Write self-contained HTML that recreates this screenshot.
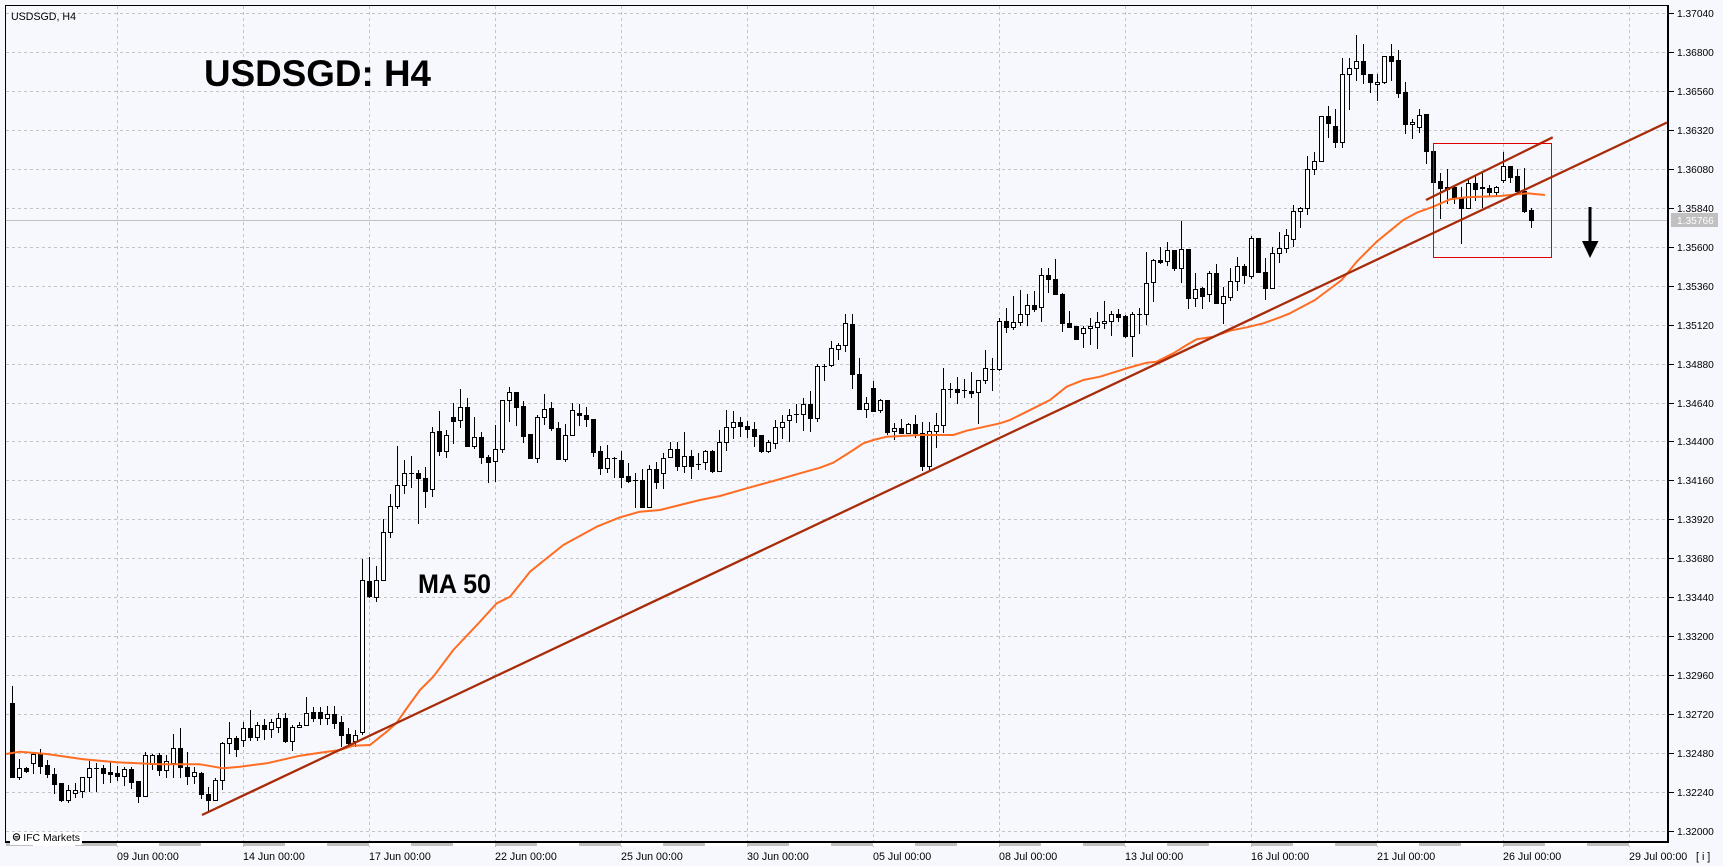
<!DOCTYPE html>
<html><head><meta charset="utf-8">
<style>
html,body{margin:0;padding:0;background:#f7f8fd;overflow:hidden;}
svg{display:block;}
text{font-family:"Liberation Sans",Arial,sans-serif;fill:#000;}
</style></head>
<body>
<svg id="c" width="1723" height="866" viewBox="0 0 1723 866" xmlns="http://www.w3.org/2000/svg">
<rect width="1723" height="866" fill="#f7f8fd"/>
<g id="grid" shape-rendering="crispEdges"></g>
<line x1="6" y1="220.5" x2="1667" y2="220.5" stroke="#c0c0c0" stroke-width="1" shape-rendering="crispEdges"/>
<g id="candles" shape-rendering="crispEdges"></g>
<polyline id="ma" fill="none" stroke="#ff6c22" stroke-width="2" stroke-linejoin="round" points=""/>
<line x1="202" y1="815" x2="1667" y2="122.5" stroke="#a82c0a" stroke-width="2.3"/>
<line x1="1426" y1="200" x2="1552.7" y2="137.3" stroke="#a82c0a" stroke-width="2.3"/>
<rect x="1433.5" y="143.5" width="118" height="114" fill="none" stroke="#e00000" stroke-width="1" shape-rendering="crispEdges"/>
<rect x="1588.5" y="207" width="3" height="35" fill="#000" shape-rendering="crispEdges"/>
<polygon points="1582,241 1598.5,241 1590,258" fill="#000"/>

<!-- borders -->
<g shape-rendering="crispEdges">
<rect x="5" y="5" width="1664" height="1" fill="#000"/>
<rect x="5" y="5" width="1" height="838" fill="#000"/>
<rect x="1667" y="5" width="2" height="838" fill="#000"/>
<rect x="5" y="841" width="1664" height="2" fill="#000"/>
<g id="strip"></g>
</g>

<!-- texts -->
<text x="11" y="20" font-size="10.6" textLength="65" lengthAdjust="spacingAndGlyphs">USDSGD, H4</text>
<text x="204" y="86" font-size="37" font-weight="bold" textLength="227" lengthAdjust="spacingAndGlyphs">USDSGD: H4</text>
<text x="418" y="593" font-size="27" font-weight="bold" textLength="73" lengthAdjust="spacingAndGlyphs">MA 50</text>

<rect x="10" y="832" width="72" height="13" fill="#ffffff" shape-rendering="crispEdges"/>
<circle cx="16.5" cy="837" r="3.2" fill="none" stroke="#000" stroke-width="1"/>
<line x1="14.5" y1="836.5" x2="18.5" y2="836.5" stroke="#000" stroke-width="0.8"/>
<line x1="14.5" y1="838" x2="18.5" y2="838" stroke="#000" stroke-width="0.8"/>
<text x="23.3" y="841" font-size="10.4" textLength="56.7" lengthAdjust="spacingAndGlyphs">IFC Markets</text>

<!-- y axis labels -->
<g font-size="10.2">
<text x="1677" y="17">1.37040</text>
<text x="1677" y="56">1.36800</text>
<text x="1677" y="95">1.36560</text>
<text x="1677" y="134">1.36320</text>
<text x="1677" y="173">1.36080</text>
<text x="1677" y="212">1.35840</text>
<text x="1677" y="251">1.35600</text>
<text x="1677" y="290">1.35360</text>
<text x="1677" y="329">1.35120</text>
<text x="1677" y="368">1.34880</text>
<text x="1677" y="407">1.34640</text>
<text x="1677" y="445">1.34400</text>
<text x="1677" y="484">1.34160</text>
<text x="1677" y="523">1.33920</text>
<text x="1677" y="562">1.33680</text>
<text x="1677" y="601">1.33440</text>
<text x="1677" y="640">1.33200</text>
<text x="1677" y="679">1.32960</text>
<text x="1677" y="718">1.32720</text>
<text x="1677" y="757">1.32480</text>
<text x="1677" y="796">1.32240</text>
<text x="1677" y="835">1.32000</text>
</g>
<rect x="1671" y="213" width="47" height="14" fill="#c0c0c0" shape-rendering="crispEdges"/>
<text x="1677" y="224" font-size="10.2" style="fill:#ffffff">1.35766</text>

<!-- x axis labels -->
<g font-size="10.7">
<text x="117" y="860">09 Jun 00:00</text>
<text x="243" y="860">14 Jun 00:00</text>
<text x="369" y="860">17 Jun 00:00</text>
<text x="495" y="860">22 Jun 00:00</text>
<text x="621" y="860">25 Jun 00:00</text>
<text x="747" y="860">30 Jun 00:00</text>
<text x="873" y="860">05 Jul 00:00</text>
<text x="999" y="860">08 Jul 00:00</text>
<text x="1125" y="860">13 Jul 00:00</text>
<text x="1251" y="860">16 Jul 00:00</text>
<text x="1377" y="860">21 Jul 00:00</text>
<text x="1503" y="860">26 Jul 00:00</text>
<text x="1629" y="860">29 Jul 00:00</text>
<text x="1696" y="860">[ i ]</text>
</g>
</svg>
<script>
(function(){
var g='';
for(var k=0;k<22;k++){var y=Math.round(13+38.95*k)+0.5;
 g+='<line x1="6" y1="'+y+'" x2="1667" y2="'+y+'" stroke="#c4c4c4" stroke-dasharray="3,3"/>';
 g+='<line x1="1669" y1="'+y+'" x2="1674" y2="'+y+'" stroke="#000"/>';}
for(var k=0;k<13;k++){var x=Math.floor(117.6+126.02*k)+0.5;
 g+='<line x1="'+x+'" y1="6" x2="'+x+'" y2="841" stroke="#c4c4c4" stroke-dasharray="3,3"/>';
 g+='<line x1="'+x+'" y1="843" x2="'+x+'" y2="847" stroke="#b0b0b0"/>';}
document.getElementById('grid').innerHTML=g;

var st='<rect x="6" y="843" width="1661" height="3" fill="#ffffff"/>';
for(var k=-1;k<20;k++){var a=75+84*k,b=a+42;if(a<6)a=6;if(b>1667)b=1667;if(b>a)st+='<rect x="'+a+'" y="843" width="'+(b-a)+'" height="3" fill="#c0c0c0"/>';}
document.getElementById('strip').innerHTML=st;

var segs=[
{ox:0,oy:0,s:1,c:[[355,1,735,741,730,746],[362,1,580,732,559,734]]},
{ox:0,oy:600,s:1/3,c:[
[38,0,310,530,258,530],[58,1,505,530,478,537],[80,0,503,512,500,515],[100,1,462,490,455,520],
[121,0,462,497,448,520],[142,0,495,523,480,530],[163,0,522,553,505,578],[184,0,548,600,548,603],
[205,1,570,600,555,605],[226,1,571,580,548,590],[247,1,532,572,530,590],[268,1,505,532,482,573],
[289,1,505,505,488,572],[310,0,503,520,495,548],[331,0,515,522,487,545],[352,0,519,527,498,540],
[373,1,507,527,500,555],[394,0,507,545,500,565],[415,0,543,587,543,605],[436,1,465,587,455,587],
[457,1,465,492,462,508],[478,0,465,510,460,525],[499,1,484,510,465,530],[520,1,444,488,402,530],
[541,0,444,500,385,532],[562,0,500,527,455,553],[583,1,517,527,500,550],[604,0,518,583,515,595],
[625,0,582,600,562,635],[646,1,540,600,535,600],[667,1,430,540,425,568],[688,1,415,430,365,460],
[709,0,413,447,408,467],[730,1,383,420,365,437],[751,0,383,412,330,420],[772,1,376,412,365,420],
[793,0,376,388,358,418],[814,1,367,388,358,412],[835,1,354,382,340,395],[856,0,354,422,340,425],
[877,1,382,422,375,450],[898,1,375,380,365,380],[919,1,338,375,290,375],[940,0,337,355,320,362],
[961,0,335,355,320,372],[982,1,342,354,318,372],[1003,0,342,369,318,384],[1024,0,366,405,348,438],
[1045,0,402,429,384,438]]},
{ox:330,oy:330,s:1/3,c:[
[118,0,752,797,680,800],[139,1,750,800,708,812],[160,1,607,750,567,750],[181,1,528,607,492,622],
[202,1,466,527,348,533],[223,1,430,466,390,488],[244,1,430,430,378,470],[265,0,430,445,420,578],
[286,0,445,482,412,532],[307,1,307,478,290,497],[328,0,303,362,243,375],[349,1,316,362,300,380],
[370,0,262,272,220,340],[391,1,232,271,177,290],[412,0,232,347,205,347],[433,1,322,347,262,355],
[454,0,322,382,307,400],[475,0,381,397,375,455],[496,1,358,394,285,452],[517,1,211,358,211,365],
[538,1,187,211,172,272],[559,0,187,230,187,284],[580,0,229,317,212,337],[601,0,313,385,313,385],
[622,1,262,385,255,397],[643,1,236,262,192,282],[664,0,235,293,215,300],[685,0,295,388,275,388],
[706,1,316,388,283,392],[727,1,241,316,220,316],[748,0,250,256,222,285],[769,0,256,268,232,287],
[790,0,267,365,267,378],[811,0,364,415,348,433],[832,1,385,415,345,425],[853,1,385,385,380,440],
[874,0,391,440,363,470],[895,0,438,453,400,455]]},
{ox:620,oy:280,s:1/3,c:[
[46,1,600,600,580,680],[67,0,600,680,568,681],[88,1,568,680,555,680],[109,0,568,607,545,623],
[130,1,535,580,520,623],[151,1,508,532,487,532],[172,0,508,557,487,570],[193,1,529,557,457,577],
[214,0,529,557,510,593],[235,1,552,552,520,567],[256,1,514,547,510,567],[277,0,514,572,510,575],
[298,1,487,572,451,572],[319,1,441,487,390,510],[340,1,427,441,393,473],[361,0,427,437,411,467],
[382,0,438,448,423,470],[403,0,448,467,425,497],[424,0,465,512,465,517],[445,1,487,512,481,515],
[466,1,441,490,419,503],[487,1,427,441,405,473],[508,1,405,421,387,483],[529,1,403,403,372,425],
[550,1,373,403,353,451],[571,0,372,413,333,453],[592,1,259,413,252,423],[613,1,258,258,252,300],
[634,1,205,256,182,258],[655,1,196,208,188,238],[676,1,130,196,102,213],[697,0,132,281,102,323],
[718,0,281,386,233,386],[739,1,370,386,350,410],[760,0,325,392,303,392],[781,1,361,389,357,395],
[802,0,361,455,361,462],[823,1,445,452,430,477],[844,0,445,458,418,460],[865,1,433,458,430,460],
[886,0,433,458,405,470]]},
{ox:900,oy:190,s:1/3,c:[
[67,0,728,828,695,840],[88,1,722,827,695,838],[109,1,706,722,670,770],[130,1,598,706,535,725],
[151,1,598,598,580,620],[172,0,598,605,560,638],[193,1,601,601,568,622],[214,0,604,608,547,620],
[235,1,571,607,570,698],[256,1,535,571,481,580],[277,1,536,536,505,600],[298,1,394,538,385,540],
[319,0,394,410,354,425],[340,1,397,410,318,417],[361,1,373,397,300,405],[382,1,346,373,313,405],
[403,0,346,356,303,362],[424,1,256,352,235,392],[445,0,256,268,235,305],[466,0,268,313,207,313],
[487,0,313,400,310,422],[508,0,400,410,363,410],[529,0,408,446,408,448],[550,1,415,428,408,470],
[571,1,408,415,383,462],[592,1,397,410,367,475],[613,1,394,400,333,413],[634,1,373,394,363,434],
[655,0,373,380,357,394],[676,0,378,437,375,440],[697,1,373,437,367,497],[718,1,373,373,353,430],
[739,1,280,373,186,402],[760,1,211,277,206,333],[781,0,211,215,172,218],[802,1,181,214,156,225],
[823,0,181,233,181,240],[844,1,178,233,93,275],[865,0,178,323,178,355],[886,1,296,323,250,348]]},
{ox:1180,oy:240,s:1/3,c:[
[67,0,145,167,140,203],[88,1,100,163,93,183],[109,0,100,190,73,190],[130,1,168,190,142,248],
[151,1,124,170,85,180],[172,1,78,124,52,150],[193,0,78,105,72,130]]},
{ox:1190,oy:20,s:1/3,c:[
[184,1,655,767,648,775],[205,0,655,757,655,757],[226,0,757,803,715,837],[247,1,700,803,680,805],
[268,1,685,700,636,725],[289,1,646,685,628,697],[310,1,574,658,555,677],[331,1,565,574,560,620],
[352,1,448,565,408,582],[373,1,422,448,395,462],[394,1,289,424,289,424],[415,0,289,308,258,350],
[436,0,319,365,267,382],[457,1,163,365,115,380],[478,1,145,163,115,266],[499,1,124,145,45,180],
[520,0,124,163,72,188],[541,0,163,187,163,215],[562,1,186,193,163,240],[583,1,108,187,108,190],
[604,0,108,122,72,180],[625,0,120,218,90,230],[646,0,216,313,186,338],[667,1,307,313,296,355],
[688,1,284,322,268,335],[709,0,283,392,283,430]]},
{ox:1400,oy:0,s:1/3,c:[
[100,0,452,545,452,545],[121,0,543,565,520,655],[142,0,561,568,508,608],[163,0,560,590,555,610],
[184,0,595,623,560,730],[205,1,548,623,540,623],[226,0,548,566,527,600],[247,0,562,565,512,622],
[268,0,565,575,555,588],[289,1,562,575,557,585],[310,1,497,540,457,545],[331,0,497,530,497,545],
[352,0,528,572,508,578],[373,0,572,633,505,637],[394,0,630,660,625,680]]}
];
var seen={},out='';
for(var a=0;a<segs.length;a++){var sg=segs[a];
 for(var b=0;b<sg.c.length;b++){var d=sg.c[b];
  var x=sg.ox+d[0]*sg.s;var i=Math.round((x-12.7)/7);
  if(seen[i])continue;seen[i]=1;var cx=12+7*i;
  var Y=function(v){return Math.round(sg.oy+v*sg.s);};
  var bt=Y(d[2]),bb=Y(d[3]),hi=Y(d[4]),lo=Y(d[5]);
  if(bb<bt){var t=bb;bb=bt;bt=t;}
  if(hi>bt)hi=bt;if(lo<bb)lo=bb;
  out+='<rect x="'+cx+'" y="'+hi+'" width="1" height="'+Math.max(lo-hi+1,1)+'" fill="#000"/>';
  out+='<rect x="'+(cx-2)+'" y="'+bt+'" width="5" height="'+(bb-bt+1)+'" fill="#000"/>';
  if(d[1]&&bb-bt>=2)out+='<rect x="'+(cx-1)+'" y="'+(bt+1)+'" width="3" height="'+(bb-bt-1)+'" fill="#fff"/>';
 }}
document.getElementById('candles').innerHTML=out;

var ma=[[6,754],[20,751.7],[46.7,754],[83.3,759.3],[116.7,762.3],[160,764.3],[200,764.3],[223.3,768.3],[240,766.7],[266.7,763.3],[300,755.7],[320,752.7],[340,750],[353.3,745.7],[370,745],[386.7,731.7],[396.7,722.7],[406.7,708.3],[420,690],[433.3,676.7],[453.3,650],[480,621.7],[496.7,603.3],[510,596.7],[530,571.7],[563.3,545],[596.7,526.7],[620,517.3],[640,511.7],[660,510],[680,505],[700,500],[720,496],[746.7,488.3],[773.3,481],[800,473.3],[820,467.7],[833.3,462.7],[853.3,450],[863.3,443.3],[873.3,440],[886.7,436.7],[920,435],[953.3,435],[966.7,430.7],[1000,423.3],[1010,420],[1026.7,411.7],[1050,400],[1066.7,386.7],[1083.3,380],[1100,376.7],[1126.7,368.3],[1146.7,362.7],[1156.7,361.7],[1173.3,353.3],[1186.7,345],[1196.7,339.3],[1213.3,336.7],[1230,330.7],[1246.7,327.3],[1263.3,323.3],[1280,317.3],[1290,313.3],[1315,300],[1341.7,280],[1356.7,261.7],[1376.7,241.7],[1403.3,220],[1416.7,212.7],[1433.3,206.7],[1450,199.3],[1466.7,197.3],[1500,196],[1526.7,193.3],[1545,195]];
document.getElementById('ma').setAttribute('points',ma.map(function(p){return p[0]+','+p[1];}).join(' '));
})();
</script>
</body></html>
